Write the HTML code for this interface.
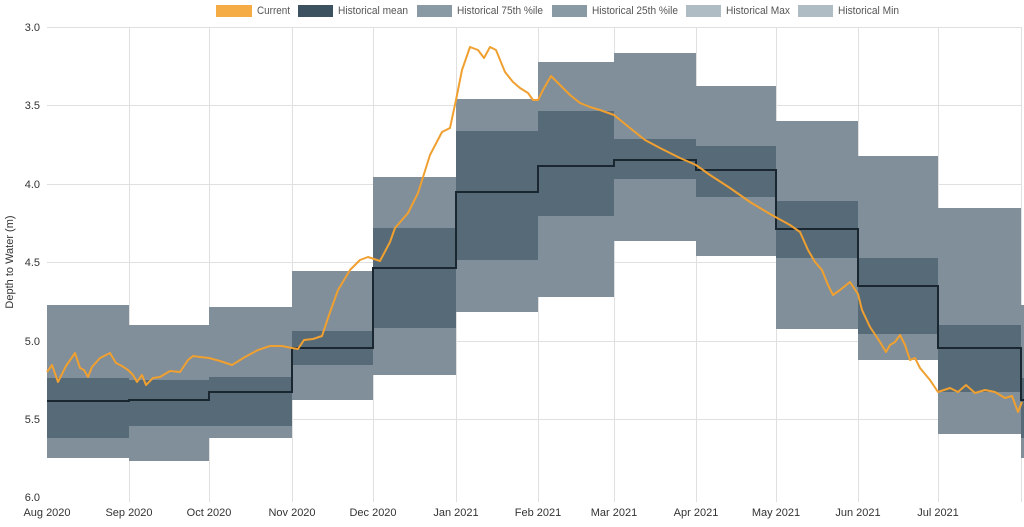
<!DOCTYPE html>
<html><head><meta charset="utf-8"><style>
body{margin:0;background:#fff;font-family:"Liberation Sans",sans-serif}
</style></head><body>
<svg width="1024" height="522" xmlns="http://www.w3.org/2000/svg" font-family="Liberation Sans, sans-serif">
<rect width="1024" height="522" fill="#fff"/>
<g stroke="#e0e0e0" stroke-width="1">
<line x1="47" x2="1022" y1="27.5" y2="27.5"/><line x1="47" x2="1022" y1="105.5" y2="105.5"/><line x1="47" x2="1022" y1="184.5" y2="184.5"/><line x1="47" x2="1022" y1="262.5" y2="262.5"/><line x1="47" x2="1022" y1="341.5" y2="341.5"/><line x1="47" x2="1022" y1="419.5" y2="419.5"/>
<line x1="129.5" x2="129.5" y1="27" y2="502"/><line x1="209.5" x2="209.5" y1="27" y2="502"/><line x1="292.5" x2="292.5" y1="27" y2="502"/><line x1="373.5" x2="373.5" y1="27" y2="502"/><line x1="456.5" x2="456.5" y1="27" y2="502"/><line x1="538.5" x2="538.5" y1="27" y2="502"/><line x1="614.5" x2="614.5" y1="27" y2="502"/><line x1="696.5" x2="696.5" y1="27" y2="502"/><line x1="776.5" x2="776.5" y1="27" y2="502"/><line x1="858.5" x2="858.5" y1="27" y2="502"/><line x1="938.5" x2="938.5" y1="27" y2="502"/><line x1="1021.5" x2="1021.5" y1="27" y2="502"/>
</g>
<g fill="#808f99">
<rect x="47" y="305" width="82" height="153"/>
<rect x="129" y="325" width="80" height="136"/>
<rect x="209" y="307" width="83" height="131"/>
<rect x="292" y="271" width="81" height="129"/>
<rect x="373" y="177" width="83" height="198"/>
<rect x="456" y="99" width="82" height="213"/>
<rect x="538" y="62" width="76" height="235"/>
<rect x="614" y="53" width="82" height="188"/>
<rect x="696" y="86" width="80" height="170"/>
<rect x="776" y="121" width="82" height="208"/>
<rect x="858" y="156" width="80" height="204"/>
<rect x="938" y="208" width="83" height="226"/>
<rect x="1021" y="305" width="3" height="153"/>
</g>
<g fill="#566a78">
<rect x="47" y="378" width="82" height="60"/>
<rect x="129" y="380" width="80" height="46"/>
<rect x="209" y="377" width="83" height="49"/>
<rect x="292" y="331" width="81" height="34"/>
<rect x="373" y="228" width="83" height="100"/>
<rect x="456" y="131" width="82" height="129"/>
<rect x="538" y="111" width="76" height="105"/>
<rect x="614" y="139" width="82" height="40"/>
<rect x="696" y="146" width="80" height="51"/>
<rect x="776" y="201" width="82" height="57"/>
<rect x="858" y="258" width="80" height="76"/>
<rect x="938" y="325" width="83" height="67"/>
<rect x="1021" y="378" width="3" height="60"/>
</g>
<polyline fill="none" stroke="#1a2630" stroke-width="2" points="47,401 129,401 129,400 209,400 209,392 292,392 292,348 373,348 373,268 456,268 456,192 538,192 538,166 614,166 614,160 696,160 696,170 776,170 776,229 858,229 858,286 938,286 938,348 1021,348 1021,400 1024,400"/>
<polyline fill="none" stroke="#f0a030" stroke-width="2" stroke-linejoin="round" points="47,372 52,365 58,382 66,366 75,353 80,368 84,370 88,377 92,367 100,358 110,353 116,363 122,366 128,370 133,375 137,382 142,375 146,385 153,378 160,377 170,371 180,372 188,360 193,356 200,357 209,358 220,361 232,365 245,357 258,350 270,346 282,346 292,348 298,349 304,340 313,339 322,336 328,318 338,290 350,270 360,260 368,257 380,261 390,242 395,228 408,213 418,193 430,155 442,132 450,128 456,100 462,70 470,47 478,50 484,58 490,47 496,50 505,72 513,82 520,88 528,93 533,100 538,100 543,90 551,76 560,85 570,95 580,103 590,107 600,110 614,115 630,128 645,140 660,148 680,158 696,165 710,175 730,188 750,202 770,214 790,225 800,232 808,250 815,262 822,270 828,285 833,295 840,290 850,282 858,294 862,310 870,327 880,342 886,352 890,345 895,342 900,335 905,345 910,360 915,358 920,368 930,380 938,392 950,388 958,392 966,385 975,393 985,390 995,392 1005,398 1012,396 1018,412 1022,402"/>
<g font-size="11" fill="#333" text-anchor="end">
<text x="40" y="31">3.0</text><text x="40" y="109">3.5</text><text x="40" y="188">4.0</text><text x="40" y="266">4.5</text><text x="40" y="345">5.0</text><text x="40" y="423">5.5</text><text x="40" y="501">6.0</text>
</g>
<text transform="translate(13,262) rotate(-90)" font-size="11" fill="#333" text-anchor="middle">Depth to Water (m)</text>
<g font-size="11" fill="#333" text-anchor="middle">
<text x="47" y="516">Aug 2020</text><text x="129" y="516">Sep 2020</text><text x="209" y="516">Oct 2020</text><text x="292" y="516">Nov 2020</text><text x="373" y="516">Dec 2020</text><text x="456" y="516">Jan 2021</text><text x="538" y="516">Feb 2021</text><text x="614" y="516">Mar 2021</text><text x="696" y="516">Apr 2021</text><text x="776" y="516">May 2021</text><text x="858" y="516">Jun 2021</text><text x="938" y="516">Jul 2021</text>
</g>
<g font-size="11" fill="#555">
<rect x="216" y="5" width="36" height="12" fill="#f5ac45"/><text x="257" y="14" textLength="33" lengthAdjust="spacingAndGlyphs">Current</text>
<rect x="298" y="5" width="35" height="12" fill="#3c5260"/><text x="338" y="14" textLength="70" lengthAdjust="spacingAndGlyphs">Historical mean</text>
<rect x="417" y="5" width="35" height="12" fill="#8a9aa4"/><text x="457" y="14" textLength="86" lengthAdjust="spacingAndGlyphs">Historical 75th %ile</text>
<rect x="552" y="5" width="35" height="12" fill="#8a9aa4"/><text x="592" y="14" textLength="86" lengthAdjust="spacingAndGlyphs">Historical 25th %ile</text>
<rect x="686" y="5" width="35" height="12" fill="#b0bcc3"/><text x="726" y="14" textLength="64" lengthAdjust="spacingAndGlyphs">Historical Max</text>
<rect x="798" y="5" width="35" height="12" fill="#b0bcc3"/><text x="838" y="14" textLength="61" lengthAdjust="spacingAndGlyphs">Historical Min</text>
</g>
</svg>
</body></html>
